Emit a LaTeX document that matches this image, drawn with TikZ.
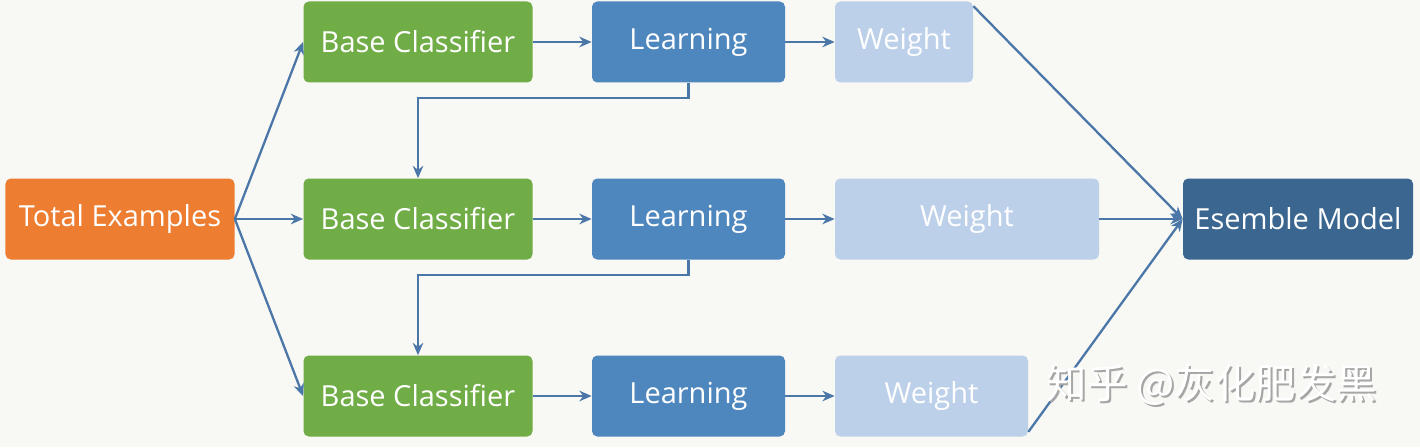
\documentclass[tikz,border=0pt]{standalone}
\usepackage{fontspec}
\setmainfont{Open Sans}
\newfontfamily\cjk{Noto Sans CJK SC}
\usetikzlibrary{arrows.meta}
\definecolor{bg}{HTML}{F8F8F4}
\definecolor{org}{HTML}{ED7D31}
\definecolor{grn}{HTML}{70AD47}
\definecolor{lrn}{HTML}{4E86BE}
\definecolor{wgt}{HTML}{BDD0EA}
\definecolor{ens}{HTML}{3A6690}
\definecolor{ln}{HTML}{4A76A8}
\begin{document}
\begin{tikzpicture}[
  box/.style={rounded corners=3pt, minimum height=1.62cm, text=white, font=\fontsize{16.5}{20}\selectfont, inner sep=0pt},
  conn/.style={draw=ln, line width=1.3pt, -{Stealth[length=7pt,width=6pt]}}]
\fill[bg] (0,0) rectangle (28.4,8.94);
\useasboundingbox (0,0) rectangle (28.4,8.94);
\node[box, fill=org, minimum width=4.58cm] (T) at (2.4,4.56) {Total Examples};
\foreach \i/\y in {1/8.1,2/4.56,3/1.02}{
  \node[box, fill=grn, minimum width=4.58cm] (B\i) at (8.36,\y) {Base Classifier};
  \node[box, fill=lrn, minimum width=3.86cm] (L\i) at (13.77,\y) {Learning};
}
\node[box, fill=wgt, minimum width=2.76cm] (W1) at (18.08,8.1) {Weight};
\node[box, fill=wgt, minimum width=5.28cm] (W2) at (19.34,4.56) {Weight};
\node[box, fill=wgt, minimum width=3.86cm] (W3) at (18.63,1.02) {Weight};
\node[box, fill=ens, minimum width=4.6cm] (E) at (25.96,4.56) {Esemble Model};
\draw[conn] (T.east) -- (B1.west);
\draw[conn] (T.east) -- (B2.west);
\draw[conn] (T.east) -- (B3.west);
\foreach \i in {1,2,3}{
  \draw[conn] (B\i) -- (L\i);
  \draw[conn] (L\i) -- (W\i);
}
\draw[conn] (L1.south) -- ++(0,-0.3) -| (B2.north);
\draw[conn] (L2.south) -- ++(0,-0.3) -| (B3.north);
\draw[conn] (W1.north east) ++(0,-0.1) -- (E.west);
\draw[conn] (W2.east) -- (E.west);
\draw[conn] (W3.south east) ++(0,0.1) -- (E.west);
\node[text=gray!70, font=\cjk\fontsize{23}{27}\selectfont] at (24.28,1.2) {知乎 @灰化肥发黑};
\node[text=white, font=\cjk\fontsize{23}{27}\selectfont] (wm) at (24.24,1.24) {知乎 @灰化肥发黑};
\end{tikzpicture}
\end{document}
